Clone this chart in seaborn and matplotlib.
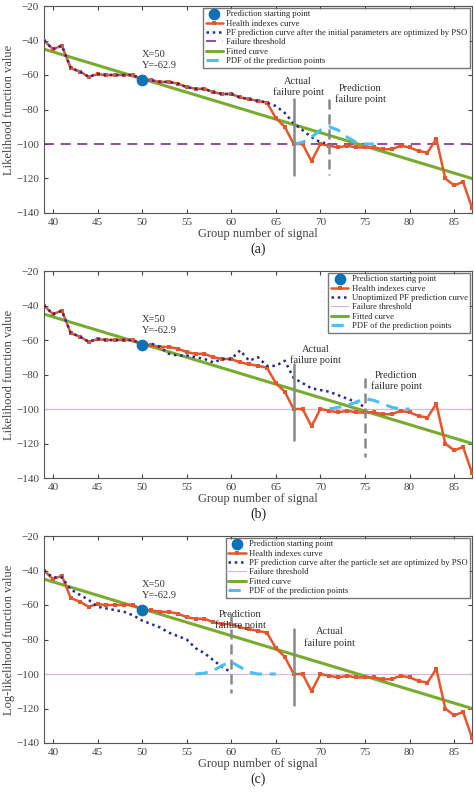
import numpy as np
import pandas as pd
import matplotlib
matplotlib.use("Agg")
import matplotlib.pyplot as plt
import seaborn as sns

sns.set_style("white")
plt.rcParams['font.family'] = ['Liberation Serif', 'DejaVu Serif']

x_health = list(range(39, 88))
health = [-40, -45, -43, -56, -58, -61, -59.5, -60, -60, -60, -60, -62.9, -63, -64, -64, -65, -67, -68, -68,
          -70, -71, -71, -73, -74, -75, -76, -85, -90, -100, -100, -110, -100, -101, -102, -101, -102, -102,
          -102, -103, -103, -101, -102, -104, -105, -97, -120, -124, -122, -137]
fit_x = [39, 87]
fit_y = [-45, -120]

pred_a_x = list(range(39, 72))
pred_a = health[:26] + [-78, -82, -88, -92, -96, -99, -100]
pred_b_x = list(range(39, 76))
pred_b = health[:12] + [-62, -64, -68, -69, -69, -70, -71, -73, -71, -71, -66, -72, -70, -75, -75, -72,
                        -82, -85, -88, -89, -90, -92, -94, -96, -99]
pred_c_x = list(range(39, 61))
pred_c = [-40, -44, -44, -51, -54, -57, -61, -62, -63, -64, -66, -69, -71, -73, -76, -78, -80, -85, -88,
          -92, -96, -99]

pdf_offsets = [-4, -3, -2, -1, 0, 1, 2, 3, 4, 5]
pdf_vals_a = [-100, -99, -96, -92, -90, -92, -96, -99, -100, -100]
pdf_vals_b = [-100, -99, -98, -96, -94, -95, -97, -99, -100, -100]
pdf_vals_c = [-100, -99.5, -98, -95, -93, -96, -99, -100, -100, -100]

panels = [
    dict(lab="(a)", ylabel="Likelihood function value", px=pred_a_x, py=pred_a,
         plabel="PF prediction curve after the initial parameters are optimized by PSO",
         pf=71, pdf=pdf_vals_a, thr_style="dash", pv=(-74, -118),
         acttxt=(67.5, -61), predtxt=(74.5, -65)),
    dict(lab="(b)", ylabel="Likelihood function value", px=pred_b_x, py=pred_b,
         plabel="Unoptimized PF prediction curve",
         pf=75, pdf=pdf_vals_b, thr_style="thin", pv=(-82, -128),
         acttxt=(69.5, -63), predtxt=(78.5, -78)),
    dict(lab="(c)", ylabel="Log-likelihood function value", px=pred_c_x, py=pred_c,
         plabel="PF prediction curve after the particle set are optimized by PSO",
         pf=60, pdf=pdf_vals_c, thr_style="thin", pv=(-65, -111),
         acttxt=(71, -73), predtxt=(61, -63)),
]

fig = plt.figure(figsize=(4.74, 7.97), dpi=100)
H = 797
L = 44
tops = [6, 271, 536]
for p, top in zip(panels, tops):
    ax = fig.add_axes([L / 474, 1 - (top + 207) / H, (472 - L) / 474, 207 / H])
    sns.lineplot(x=fit_x, y=fit_y, ax=ax, color="#77ac30", lw=2.2, label="Fitted curve", zorder=2)
    sns.lineplot(x=x_health, y=health, ax=ax, color="#e4572e", lw=1.8, marker="s", markersize=3,
                 markeredgewidth=0, label="Health indexes curve", zorder=3)
    sns.lineplot(x=p["px"], y=p["py"], ax=ax, color="#1f2f8f", lw=1.8, linestyle=(0, (1, 1.5)),
                 label=p["plabel"], zorder=4)
    if p["thr_style"] == "dash":
        ax.axhline(-100, color="#7e2f8e", lw=1.2, ls=(0, (6, 4)), label="Failure threshold", zorder=1)
    else:
        ax.axhline(-100, color="#d8b8e0", lw=0.9, label="Failure threshold", zorder=1)
    pdf_x = [p["pf"] + o for o in pdf_offsets]
    sns.lineplot(x=pdf_x, y=p["pdf"], ax=ax, color="#4dbeee", lw=2.2, ls=(0, (4, 2.5)),
                 label="PDF of the prediction points", zorder=5)
    ax.scatter([50], [-62.9], s=55, color="#0b72b5", zorder=6, label="Prediction starting point")
    ax.plot([67, 67], [-74, -118], color="#888888", lw=1.8, zorder=5)
    ax.plot([p["pf"], p["pf"]], list(p["pv"]), color="#888888", lw=1.8, ls=(0, (4, 2)), zorder=5)
    ax.text(50, -57, "X=50\nY=-62.9", fontsize=7.5, color="#333333", ha="left", va="bottom")
    ax.text(p["acttxt"][0], p["acttxt"][1], "Actual\nfailure point", fontsize=7.5, color="#333333",
            ha="center", va="top")
    ax.text(p["predtxt"][0], p["predtxt"][1], "Prediction\nfailure point", fontsize=7.5, color="#333333",
            ha="center", va="top")
    ax.set_xlim(39, 87)
    ax.set_ylim(-140, -20)
    ax.set_xticks(range(40, 86, 5))
    ax.set_yticks(range(-140, -19, 20))
    ax.tick_params(labelsize=8, colors="#444444", direction="in", length=3,
                   top=True, right=True, bottom=True, left=True)
    for s in ax.spines.values():
        s.set_color("#555555"); s.set_linewidth(0.8)
    ax.set_xlabel("Group number of signal", fontsize=9, color="#444444", labelpad=1)
    ax.set_ylabel(p["ylabel"], fontsize=9, color="#444444", labelpad=1)
    h, l = ax.get_legend_handles_labels()
    order = ["Prediction starting point", "Health indexes curve", p["plabel"], "Failure threshold",
             "Fitted curve", "PDF of the prediction points"]
    hd = dict(zip(l, h))
    ax.legend([hd[k] for k in order], order, loc="upper right", fontsize=6.2, frameon=True,
              fancybox=False, edgecolor="#555555", borderpad=0.3, labelspacing=0.15,
              handlelength=2.0, handletextpad=0.4, borderaxespad=0.2)
    fig.text((L + 472) / 2 / 474, 1 - (top + 243) / H, p["lab"], fontsize=10, ha="center", va="center",
             color="#222222")

fig.savefig("out.png", dpi=100)
